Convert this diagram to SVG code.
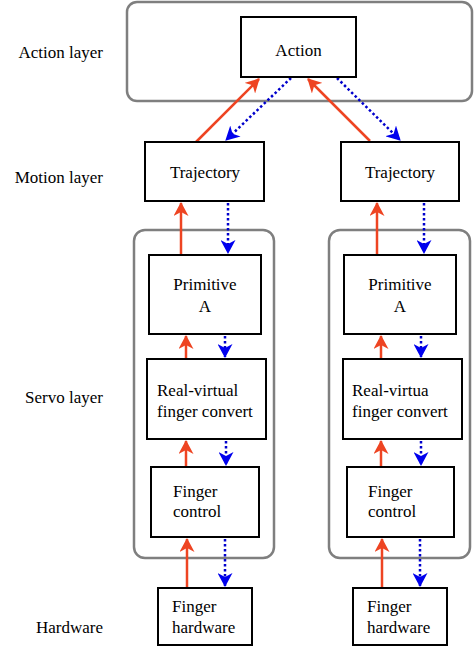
<svg xmlns="http://www.w3.org/2000/svg" width="474" height="648" viewBox="0 0 474 648">
<style>
.grp{fill:none;stroke:#7f7f7f;stroke-width:2.5}
.box{fill:#fff;stroke:#000;stroke-width:2}
.up{stroke:#ee4422;stroke-width:2.5;fill:none;marker-end:url(#ar)}
.dn{stroke:#0000cc;stroke-width:2.5;fill:none;stroke-dasharray:2.5 2.5;marker-end:url(#ab)}
text{font-family:"Liberation Serif","Times New Roman","DejaVu Serif",serif;font-size:17px;fill:#000}
</style>
<defs>
<marker id="ar" markerUnits="userSpaceOnUse" markerWidth="16" markerHeight="15" refX="13" refY="7.5" orient="auto" viewBox="0 0 16 15">
<path d="M0,0 L14,7.5 L0,15 L4,7.5 z" fill="#ee4422"/>
</marker>
<marker id="ab" markerUnits="userSpaceOnUse" markerWidth="16" markerHeight="15" refX="13" refY="7.5" orient="auto" viewBox="0 0 16 15">
<path d="M0,0 L14,7.5 L0,15 L4,7.5 z" fill="#0000ee"/>
</marker>
</defs>
<g id="layer-labels" text-anchor="end">
<text x="103" y="58">Action layer</text>
<text x="103" y="183">Motion layer</text>
<text x="103" y="403">Servo layer</text>
<text x="103" y="633">Hardware</text>
</g>
<g id="groups">
<rect class="grp" x="127" y="2" width="345" height="99" rx="10"/>
<rect class="grp" x="134" y="230" width="140" height="328" rx="11"/>
<rect class="grp" x="329" y="230" width="141" height="328" rx="11"/>
</g>
<g id="connectors">
<line class="up" x1="196" y1="142" x2="259" y2="79"/>
<line class="dn" x1="291" y1="78" x2="226" y2="140"/>
<line class="up" x1="370" y1="141" x2="308" y2="79"/>
<line class="dn" x1="337" y1="78" x2="400" y2="140"/>
<line class="up" x1="181" y1="255" x2="181" y2="203"/>
<line class="dn" x1="228" y1="203" x2="228" y2="253"/>
<line class="up" x1="377" y1="255" x2="377" y2="203"/>
<line class="dn" x1="424" y1="203" x2="424" y2="253"/>
<line class="up" x1="186" y1="359" x2="186" y2="336"/>
<line class="dn" x1="225" y1="336" x2="225" y2="357"/>
<line class="up" x1="381" y1="359" x2="381" y2="336"/>
<line class="dn" x1="421" y1="336" x2="421" y2="357"/>
<line class="up" x1="186" y1="467" x2="186" y2="441"/>
<line class="dn" x1="226" y1="441" x2="226" y2="465"/>
<line class="up" x1="381" y1="467" x2="381" y2="441"/>
<line class="dn" x1="421" y1="441" x2="421" y2="465"/>
<line class="up" x1="187" y1="588" x2="187" y2="539"/>
<line class="dn" x1="225" y1="539" x2="225" y2="586"/>
<line class="up" x1="382" y1="588" x2="382" y2="539"/>
<line class="dn" x1="420" y1="539" x2="420" y2="586"/>
</g>
<g id="action"><rect class="box" x="241" y="17" width="115" height="60"/><text text-anchor="middle" x="298.5" y="56">Action</text></g>
<g id="traj-left"><rect class="box" x="145" y="142" width="119" height="59"/><text text-anchor="middle" x="205" y="178">Trajectory</text></g>
<g id="traj-right"><rect class="box" x="341" y="142" width="118" height="59"/><text text-anchor="middle" x="400" y="178">Trajectory</text></g>
<g id="prim-left"><rect class="box" x="149" y="255" width="112" height="79"/><text text-anchor="middle" x="205" y="290">Primitive</text><text text-anchor="middle" x="205" y="312">A</text></g>
<g id="prim-right"><rect class="box" x="344" y="255" width="112" height="79"/><text text-anchor="middle" x="400" y="290">Primitive</text><text text-anchor="middle" x="400" y="312">A</text></g>
<g id="rv-left"><rect class="box" x="147" y="359" width="119" height="80"/><text x="157" y="396">Real-virtual</text><text x="157" y="417">finger convert</text></g>
<g id="rv-right"><rect class="box" x="343" y="359" width="119" height="80"/><text x="352" y="396">Real-virtua</text><text x="352" y="417">finger convert</text></g>
<g id="fc-left"><rect class="box" x="151" y="467" width="108" height="70"/><text x="173" y="497">Finger</text><text x="173" y="517">control</text></g>
<g id="fc-right"><rect class="box" x="347" y="467" width="107" height="70"/><text x="368" y="497">Finger</text><text x="368" y="517">control</text></g>
<g id="hw-left"><rect class="box" x="158" y="588" width="94" height="57"/><text x="172" y="612">Finger</text><text x="172" y="633">hardware</text></g>
<g id="hw-right"><rect class="box" x="353" y="588" width="94" height="57"/><text x="367" y="612">Finger</text><text x="367" y="633">hardware</text></g>
</svg>
